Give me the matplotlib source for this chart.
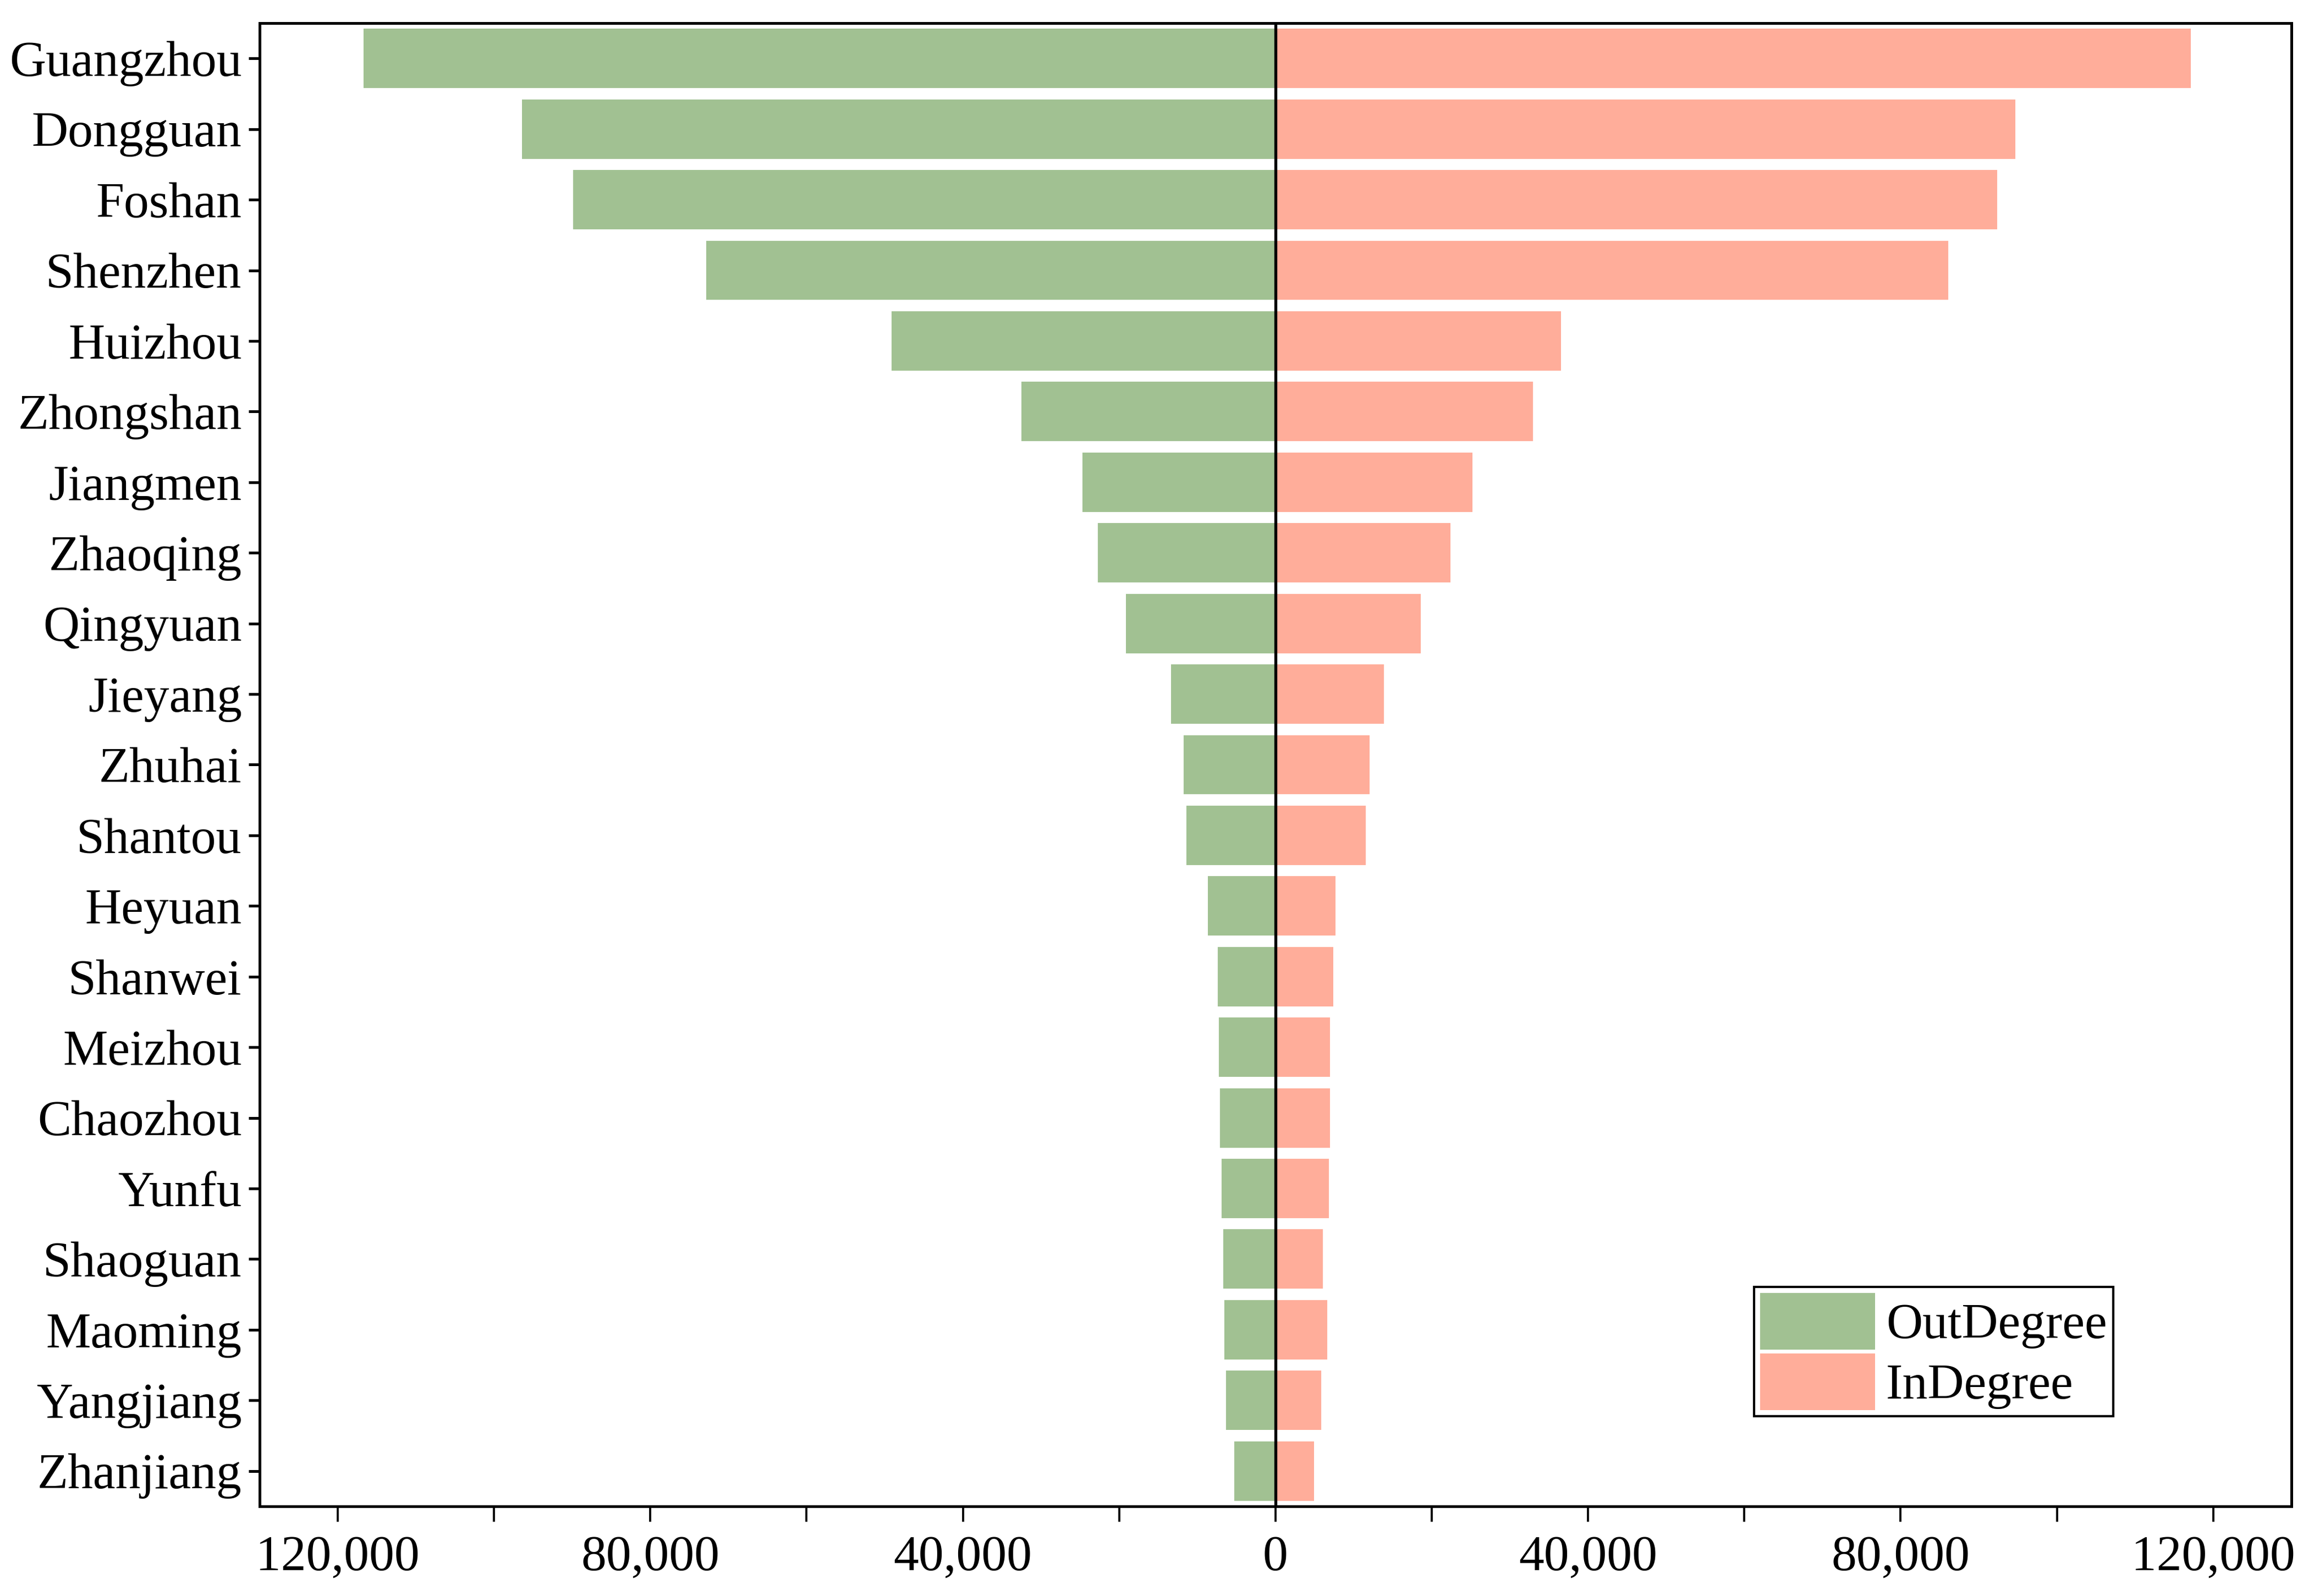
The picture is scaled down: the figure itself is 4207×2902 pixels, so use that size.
import matplotlib
matplotlib.use("Agg")
from matplotlib import pyplot as plt
from matplotlib.ticker import MultipleLocator, FuncFormatter

cities = ["Guangzhou", "Dongguan", "Foshan", "Shenzhen", "Huizhou", "Zhongshan",
          "Jiangmen", "Zhaoqing", "Qingyuan", "Jieyang", "Zhuhai", "Shantou",
          "Heyuan", "Shanwei", "Meizhou", "Chaozhou", "Yunfu", "Shaoguan",
          "Maoming", "Yangjiang", "Zhanjiang"]
out_degree = [116700, 96450, 89850, 72860, 49090, 32500, 24690, 22750, 19130, 13380,
              11760, 11400, 8660, 7390, 7250, 7120, 6910, 6690, 6560, 6320, 5260]
in_degree = [117140, 94700, 92350, 86100, 36560, 32930, 25230, 22370, 18590, 13850,
             12040, 11550, 7680, 7400, 7000, 6970, 6830, 6060, 6620, 5850, 4920]

plt.rcParams['font.family'] = ['Liberation Serif', 'DejaVu Serif']
plt.rcParams['font.size'] = 22

fig = plt.figure(figsize=(4207 / 300, 2902 / 300), dpi=300)
ax = fig.add_axes([0.1122, 0.0562, 0.8780, 0.9293])

pos = list(range(len(cities)))
ax.barh(pos, [-v for v in out_degree], height=0.84, color="#a1c192", label="OutDegree")
ax.barh(pos, in_degree, height=0.84, color="#ffad9a", label="InDegree")
ax.axvline(0, color="black", lw=1.3, zorder=3)

ax.set_xlim(-130000, 130000)
ax.set_ylim(len(cities) - 0.5, -0.5)
ax.set_yticks(pos)
ax.set_yticklabels(cities)

ax.xaxis.set_major_locator(MultipleLocator(20000))
ax.xaxis.set_major_formatter(FuncFormatter(
    lambda x, p: f"{abs(int(round(x))):,}" if round(x) % 40000 == 0 else ""))

ax.tick_params(axis="x", direction="out", length=6.6, width=0.9, pad=6, labelsize=22)
ax.tick_params(axis="y", direction="out", length=4.8, width=1.2, pad=3, labelsize=22)
for s in ax.spines.values():
    s.set_linewidth(1.2)

ax.legend(loc="lower right", bbox_to_anchor=(0.9123, 0.0608), borderaxespad=0,
          fancybox=False, edgecolor="black", framealpha=1, fontsize=22,
          handlelength=2.28, handleheight=1.35, handletextpad=0.22,
          labelspacing=0.08, borderpad=0.12)

fig.savefig("out.png", dpi=300)
